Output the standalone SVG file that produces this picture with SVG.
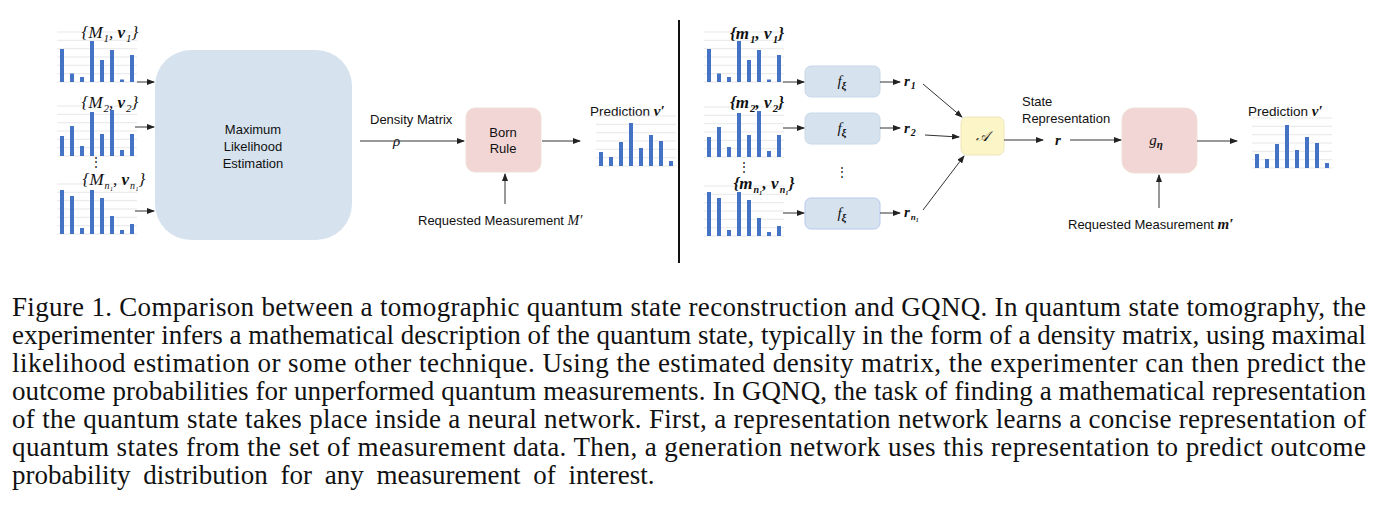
<svg xmlns="http://www.w3.org/2000/svg" width="1380" height="506" viewBox="0 0 1380 506">
<defs>
<marker id="ah" markerWidth="8" markerHeight="6" refX="7" refY="3" orient="auto" markerUnits="userSpaceOnUse"><path d="M0,0 L8,3 L0,6 z" fill="#222"/></marker>
<style>
.ln{stroke:#333;stroke-width:1;fill:none;marker-end:url(#ah)}
.grid{stroke:#ddd;stroke-width:0.7}
.bar{fill:#4472c4}
.sans{font-family:"Liberation Sans",Arial,sans-serif;fill:#111}
.math{font-family:"Liberation Serif","Times New Roman",serif;font-style:italic;fill:#111}
.bold{font-weight:bold}
.cap{font-family:"Liberation Serif","Times New Roman",serif;font-size:27px;fill:#111}
</style>
<g id="gridA">
<line class="grid" x1="0" y1="0" x2="80" y2="0"/><line class="grid" x1="0" y1="8.3" x2="80" y2="8.3"/><line class="grid" x1="0" y1="16.7" x2="80" y2="16.7"/><line class="grid" x1="0" y1="25" x2="80" y2="25"/><line class="grid" x1="0" y1="33.3" x2="80" y2="33.3"/><line class="grid" x1="0" y1="41.7" x2="80" y2="41.7"/><line class="grid" x1="0" y1="50" x2="80" y2="50"/>
</g>
<g id="c1"><use href="#gridA"/><rect class="bar" x="3" y="17" width="4" height="33"/><rect class="bar" x="13" y="41.5" width="4" height="8.5"/><rect class="bar" x="23" y="45" width="4" height="5"/><rect class="bar" x="33" y="9" width="4" height="41"/><rect class="bar" x="43" y="28" width="4" height="22"/><rect class="bar" x="53" y="18" width="4" height="32"/><rect class="bar" x="63" y="47.5" width="4" height="2.5"/><rect class="bar" x="73" y="23" width="4" height="27"/></g>
<g id="c2"><use href="#gridA"/><rect class="bar" x="3" y="30" width="4" height="20"/><rect class="bar" x="13" y="20" width="4" height="30"/><rect class="bar" x="23" y="40" width="4" height="10"/><rect class="bar" x="33" y="6" width="4" height="44"/><rect class="bar" x="43" y="28" width="4" height="22"/><rect class="bar" x="53" y="4" width="4" height="46"/><rect class="bar" x="63" y="44" width="4" height="6"/><rect class="bar" x="73" y="28" width="4" height="22"/></g>
<g id="c3"><use href="#gridA"/><rect class="bar" x="3" y="6" width="4" height="44"/><rect class="bar" x="13" y="12" width="4" height="38"/><rect class="bar" x="23" y="44" width="4" height="6"/><rect class="bar" x="33" y="6" width="4" height="44"/><rect class="bar" x="43" y="14" width="4" height="36"/><rect class="bar" x="53" y="32" width="4" height="18"/><rect class="bar" x="63" y="46" width="4" height="4"/><rect class="bar" x="73" y="40" width="4" height="10"/></g>
<g id="c4"><use href="#gridA"/><rect class="bar" x="3" y="36" width="4" height="14"/><rect class="bar" x="13" y="41" width="4" height="9"/><rect class="bar" x="23" y="26" width="4" height="24"/><rect class="bar" x="33" y="7" width="4" height="43"/><rect class="bar" x="43" y="32" width="4" height="18"/><rect class="bar" x="53" y="19" width="4" height="31"/><rect class="bar" x="63" y="25" width="4" height="25"/><rect class="bar" x="73" y="45" width="4" height="5"/></g>
</defs>
<rect width="1380" height="506" fill="#fff"/>

<g id="left-charts">
<use href="#c1" x="57" y="32"/>
<use href="#c2" x="57" y="106"/>
<use href="#c3" x="57" y="184"/>
<text class="math" x="110" y="38" font-size="17" text-anchor="middle">{M<tspan font-size="11" dx="1" dy="4">1</tspan><tspan dy="-4">, </tspan><tspan class="bold">v</tspan><tspan font-size="11" dx="1" dy="4">1</tspan><tspan dy="-4">}</tspan></text>
<text class="math" x="110" y="108" font-size="17" text-anchor="middle">{M<tspan font-size="11" dx="1" dy="4">2</tspan><tspan dy="-4">, </tspan><tspan class="bold">v</tspan><tspan font-size="11" dx="1" dy="4">2</tspan><tspan dy="-4">}</tspan></text>
<text class="sans" x="96" y="166" font-size="12" text-anchor="middle">⋮</text>
<text class="math" x="114" y="185" font-size="17" text-anchor="middle">{M<tspan font-size="10" dx="1" dy="4">n₁</tspan><tspan dy="-4">, </tspan><tspan class="bold">v</tspan><tspan font-size="10" dx="1" dy="4">n₁</tspan><tspan dy="-4">}</tspan></text>
</g>
<g id="mle"><rect x="155" y="50" width="197" height="190" rx="36" fill="#d6e3ef"/>
<text class="sans" font-size="13" text-anchor="middle"><tspan x="253" y="134">Maximum</tspan><tspan x="253" y="151">Likelihood</tspan><tspan x="253" y="168">Estimation</tspan></text></g>
<g id="born"><rect x="466" y="108" width="75" height="64" rx="9" fill="#f2d5d5" stroke="#efe0d8"/>
<text class="sans" font-size="13" text-anchor="middle"><tspan x="503" y="137">Born</tspan><tspan x="503" y="153">Rule</tspan></text></g>
<g id="pred1"><text class="sans" x="590" y="116" font-size="13.5">Prediction <tspan class="math bold" font-size="15">v′</tspan></text>
<use href="#c4" x="596" y="116"/></g>
<text class="sans" x="370" y="124" font-size="13">Density Matrix</text>
<text class="math" x="393" y="146" font-size="15">ρ</text>
<text class="sans" x="418" y="225" font-size="13">Requested Measurement <tspan class="math" font-size="14">M′</tspan></text>

<line x1="679" y1="20" x2="679" y2="263" stroke="#111" stroke-width="2"/>

<g id="right-charts">
<use href="#c1" x="704" y="32"/>
<use href="#c2" x="704" y="107"/>
<use href="#c3" x="704" y="186"/>
<text class="math bold" x="757" y="39" font-size="17" text-anchor="middle">{m<tspan font-size="11" dx="1" dy="4">1</tspan><tspan dy="-4">, v</tspan><tspan font-size="11" dx="1" dy="4">1</tspan><tspan dy="-4">}</tspan></text>
<text class="math bold" x="757" y="108" font-size="17" text-anchor="middle">{m<tspan font-size="11" dx="1" dy="4">2</tspan><tspan dy="-4">, v</tspan><tspan font-size="11" dx="1" dy="4">2</tspan><tspan dy="-4">}</tspan></text>
<text class="sans" x="744" y="171" font-size="12" text-anchor="middle">⋮</text>
<text class="math bold" x="764" y="189" font-size="17" text-anchor="middle">{m<tspan font-size="10" dx="1" dy="4">n₁</tspan><tspan dy="-4">, v</tspan><tspan font-size="10" dx="1" dy="4">n₁</tspan><tspan dy="-4">}</tspan></text>
</g>
<g id="f1"><rect x="805" y="66" width="75" height="31" rx="6" fill="#d6e3ef" stroke="#c8d8e8"/><text class="math" x="842" y="86" font-size="15" text-anchor="middle">f<tspan font-size="11" dy="3" class="bold">ξ</tspan></text></g>
<g id="f2"><rect x="805" y="113" width="75" height="31" rx="6" fill="#d6e3ef" stroke="#c8d8e8"/><text class="math" x="842" y="133" font-size="15" text-anchor="middle">f<tspan font-size="11" dy="3" class="bold">ξ</tspan></text></g>
<text class="sans" x="842" y="176" font-size="12" text-anchor="middle">⋮</text>
<g id="f3"><rect x="805" y="198" width="75" height="31" rx="6" fill="#d6e3ef" stroke="#b8c8f0"/><text class="math" x="842" y="218" font-size="15" text-anchor="middle">f<tspan font-size="11" dy="3" class="bold">ξ</tspan></text></g>
<text class="math bold" x="904" y="86" font-size="15">r<tspan font-size="10" dx="1" dy="3">1</tspan></text>
<text class="math bold" x="904" y="133" font-size="15">r<tspan font-size="10" dx="1" dy="3">2</tspan></text>
<text class="math bold" x="904" y="217" font-size="15">r<tspan font-size="9" dx="1" dy="3">n₁</tspan></text>
<g id="agg"><rect x="961" y="117" width="43" height="38" rx="6" fill="#fcf5c7" stroke="#eee6b8"/><text class="math" x="982" y="141" font-size="14" text-anchor="middle">𝒜</text></g>
<text class="sans" font-size="13"><tspan x="1022" y="106">State</tspan><tspan x="1022" y="123">Representation</tspan></text>
<text class="math bold" x="1055" y="145" font-size="15">r</text>
<g id="gen"><rect x="1122" y="108" width="75" height="65" rx="12" fill="#f2d5d5" stroke="#efe0d8"/><text class="math" x="1156" y="145" font-size="15" text-anchor="middle">g<tspan font-size="11" dy="3" class="bold">η</tspan></text></g>
<g id="pred2"><text class="sans" x="1248" y="116" font-size="13.5">Prediction <tspan class="math bold" font-size="15">v′</tspan></text>
<use href="#c4" x="1252" y="118"/></g>
<text class="sans" x="1068" y="229" font-size="13">Requested Measurement <tspan class="math bold" font-size="15">m′</tspan></text>

<g id="connectors">
<line class="ln" x1="137" y1="82" x2="154" y2="82"/>
<line class="ln" x1="135" y1="127" x2="154" y2="127"/>
<line class="ln" x1="135" y1="211" x2="154" y2="211"/>
<line class="ln" x1="360" y1="141" x2="464" y2="141"/>
<line class="ln" x1="542" y1="141" x2="580" y2="141"/>
<line class="ln" x1="505" y1="204" x2="505" y2="174"/>
<line class="ln" x1="783" y1="82" x2="804" y2="82"/>
<line class="ln" x1="783" y1="128" x2="804" y2="128"/>
<line class="ln" x1="783" y1="213" x2="804" y2="213"/>
<line class="ln" x1="880" y1="82" x2="900" y2="82"/>
<line class="ln" x1="880" y1="128" x2="900" y2="128"/>
<line class="ln" x1="880" y1="213" x2="900" y2="213"/>
<line class="ln" x1="923" y1="84" x2="962" y2="117"/>
<line class="ln" x1="925" y1="135" x2="959" y2="137"/>
<line class="ln" x1="923" y1="210" x2="964" y2="156"/>
<line class="ln" x1="1004" y1="140" x2="1043" y2="140"/>
<line class="ln" x1="1070" y1="140" x2="1121" y2="140"/>
<line class="ln" x1="1197" y1="141" x2="1237" y2="141"/>
<line class="ln" x1="1159" y1="208" x2="1159" y2="175"/>
</g>

<g id="caption" class="cap">
<text x="12" y="316" textLength="1354" lengthAdjust="spacing">Figure 1.  Comparison between a tomographic quantum state reconstruction and GQNQ. In quantum state tomography, the</text>
<text x="12" y="344" textLength="1354" lengthAdjust="spacing">experimenter infers a mathematical description of the quantum state, typically in the form of a density matrix, using maximal</text>
<text x="12" y="372" textLength="1354" lengthAdjust="spacing">likelihood estimation or some other technique.  Using the estimated density matrix, the experimenter can then predict the</text>
<text x="12" y="400" textLength="1354" lengthAdjust="spacing">outcome probabilities for unperformed quantum measurements. In GQNQ, the task of finding a mathematical representation</text>
<text x="12" y="428" textLength="1354" lengthAdjust="spacing">of the quantum state takes place inside a neural network.  First, a representation network learns a concise representation of</text>
<text x="12" y="456" textLength="1354" lengthAdjust="spacing">quantum states from the set of measurement data.  Then, a generation network uses this representation to predict outcome</text>
<text x="12" y="484" word-spacing="6">probability distribution for any measurement of interest.</text>
</g>
</svg>
